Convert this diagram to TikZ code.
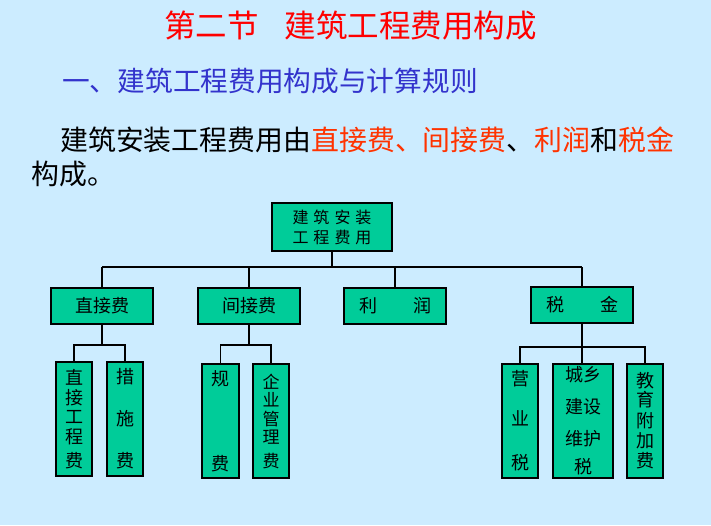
\documentclass[tikz,border=0pt]{standalone}
\usepackage{fontspec}
\newfontfamily\cjk{Noto Sans CJK SC}
\definecolor{bgblue}{RGB}{204,236,255}
\definecolor{boxgreen}{RGB}{0,204,153}
\definecolor{titlered}{RGB}{255,0,0}
\definecolor{subblue}{RGB}{51,51,204}
\definecolor{emred}{RGB}{255,51,0}
\tikzset{
  box/.style={draw=black, line width=1.2pt, fill=boxgreen, inner sep=0pt, text=black, align=center},
  lvlone/.style={box, font=\cjk\fontsize{16pt}{20pt}\selectfont},
  lvltwo/.style={box, minimum width=102pt, minimum height=36pt, font=\cjk\fontsize{18pt}{20pt}\selectfont},
  lvlthree/.style={box, minimum width=36pt, minimum height=114pt, font=\cjk\fontsize{18pt}{20pt}\selectfont},
  conn/.style={line width=1.2pt, draw=black},
  plaintext/.style={inner sep=0pt, anchor=west}
}
\begin{document}
\begin{tikzpicture}[x=1pt,y=-1pt]
\useasboundingbox (0,0) rectangle (711,525);
\fill[bgblue] (0,0) rectangle (711,525);

% heading texts
\node[plaintext, text=titlered, font=\cjk\fontsize{31.5pt}{34pt}\selectfont] (title) at (164,26) {第二节\hspace{26pt}建筑工程费用构成};
\node[plaintext, text=subblue, font=\cjk\fontsize{27.7pt}{30pt}\selectfont] (sub) at (62,81) {一、建筑工程费用构成与计算规则};
\node[plaintext, text=black, font=\cjk\fontsize{27.9pt}{30pt}\selectfont] (line1) at (60,140) {建筑安装工程费用由\textcolor{emred}{直接费、间接费}、\textcolor{emred}{利润}和\textcolor{emred}{税金}};
\node[plaintext, text=black, font=\cjk\fontsize{27.9pt}{30pt}\selectfont] (line2) at (31,174) {构成。};

% top box
\node[lvlone, minimum width=120pt, minimum height=48pt] (top) at (332,227)
  {建\hspace{5pt}筑\hspace{5pt}安\hspace{5pt}装\\工\hspace{5pt}程\hspace{5pt}费\hspace{5pt}用};

% level two
\node[lvltwo] (d1) at (102,306) {直接费};
\node[lvltwo] (d2) at (249,306) {间接费};
\node[lvltwo] (d3) at (395,306) {利\hspace{36pt}润};
\node[lvltwo] (d4) at (582,305) {税\hspace{36pt}金};

% level three
\node[lvlthree] (e1) at (74,419) {直\\[-0.5pt]接\\[-0.5pt]工\\[-0.5pt]程\\[4pt]费};
\node[lvlthree] (e2) at (125,419) {措\\[22pt]施\\[22pt]费};
\node[lvlthree, minimum width=37pt] (e3) at (220.5,421) {规\\[65pt]费};
\node[lvlthree, font=\cjk\fontsize{17pt}{18.5pt}\selectfont] (e4) at (271,421) {企\\业\\管\\理\\[5pt]费};
\node[lvlthree] (e5) at (520,421) {营\\[20pt]业\\[24pt]税};
\node[lvlthree, minimum width=60pt] (e6) at (583,421) {城乡\\[12pt]建设\\[12pt]维护\\[8pt]税};
\node[lvlthree] (e7) at (645,421) {教\\[-1pt]育\\[1pt]附\\[0pt]加\\[0pt]费};

% connectors level 1 -> 2
\coordinate (busL) at (102,267);
\coordinate (busR) at (582,267);
\draw[conn] (top.south) -- (top.south |- busL);
\draw[conn] (busL) -- (busR);
\draw[conn] (d1.north) -- (d1.north |- busL);
\draw[conn] (d2.north) -- (d2.north |- busL);
\draw[conn] (d3.north) -- (d3.north |- busL);
\draw[conn] (d4.north) -- (d4.north |- busR);

% connectors level 2 -> 3
\coordinate (j1) at (102,345);
\coordinate (j2) at (249,345);
\coordinate (j3) at (582,347);
\draw[conn] (d1.south) -- (j1);
\draw[conn] (e1.north) |- (j1) -| (e2.north);
\draw[conn] (d2.south) -- (j2);
\draw[conn] (e3.north) |- (j2) -| (e4.north);
\draw[conn] (d4.south) -- (d4.south |- e6.north);
\draw[conn] (e5.north) |- (j3) -| (e7.north);
\end{tikzpicture}
\end{document}
